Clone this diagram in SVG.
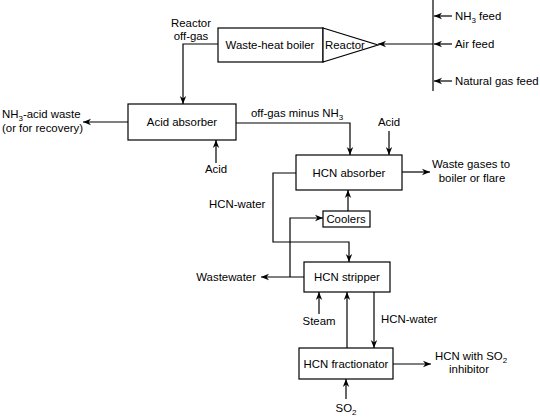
<svg xmlns="http://www.w3.org/2000/svg" width="540" height="418" viewBox="0 0 540 418">
<style>
text{font-family:"Liberation Sans",Arial,sans-serif;font-size:11.4px;fill:#000}
.box{fill:#fff;stroke:#000;stroke-width:1.2}
.ln{fill:none;stroke:#000;stroke-width:1.2}
.m{text-anchor:middle}
.e{text-anchor:end}
</style>
<defs>
<marker id="ah" viewBox="0 0 10 10" refX="10" refY="5" markerWidth="8" markerHeight="8" markerUnits="userSpaceOnUse" orient="auto">
<path d="M0,1 L10,5 L0,9 L3,5 Z" fill="#000"/>
</marker>
</defs>
<rect width="540" height="418" fill="#fff"/>
<g id="connectors">
<line class="ln" x1="433" y1="0" x2="433" y2="91"/>
<line class="ln" x1="452" y1="16" x2="434" y2="16" marker-end="url(#ah)"/>
<line class="ln" x1="452" y1="44" x2="434" y2="44" marker-end="url(#ah)"/>
<line class="ln" x1="452" y1="81" x2="434" y2="81" marker-end="url(#ah)"/>
<line class="ln" x1="433" y1="44" x2="378" y2="44" marker-end="url(#ah)"/>
<polyline class="ln" points="218,44 183,44 183,104" marker-end="url(#ah)"/>
<line class="ln" x1="128" y1="122" x2="83" y2="122" marker-end="url(#ah)"/>
<line class="ln" x1="216" y1="163" x2="216" y2="140" marker-end="url(#ah)"/>
<polyline class="ln" points="236,123 350,123 350,155" marker-end="url(#ah)"/>
<line class="ln" x1="389" y1="131" x2="389" y2="155" marker-end="url(#ah)"/>
<line class="ln" x1="402" y1="172" x2="430" y2="172" marker-end="url(#ah)"/>
<polyline class="ln" points="296,173 273,173 273,242 349,242 349,262" marker-end="url(#ah)"/>
<line class="ln" x1="348" y1="211" x2="348" y2="190" marker-end="url(#ah)"/>
<polyline class="ln" points="290,277 290,218 323,218" marker-end="url(#ah)"/>
<line class="ln" x1="304" y1="277" x2="261" y2="277" marker-end="url(#ah)"/>
<line class="ln" x1="319" y1="314" x2="319" y2="292" marker-end="url(#ah)"/>
<line class="ln" x1="347" y1="348" x2="347" y2="292" marker-end="url(#ah)"/>
<line class="ln" x1="374" y1="292" x2="374" y2="348" marker-end="url(#ah)"/>
<line class="ln" x1="393" y1="364" x2="431" y2="364" marker-end="url(#ah)"/>
<line class="ln" x1="346" y1="399" x2="346" y2="379" marker-end="url(#ah)"/>
</g>
<g id="feeds">
<text x="455" y="20">NH<tspan font-size="8" dy="3">3</tspan><tspan dy="-3"> feed</tspan></text>
<text x="455" y="48">Air feed</text>
<text x="455" y="85">Natural gas feed</text>
</g>
<g id="boiler">
<rect class="box" x="218" y="28" width="105" height="34"/>
<text class="m" x="270" y="49">Waste-heat boiler</text>
</g>
<g id="reactor">
<polygon class="box" points="323,28 378,45 323,62"/>
<text x="325" y="49">Reactor</text>
</g>
<g id="reactor-offgas-label">
<text class="m" x="191" y="27">Reactor</text>
<text class="m" x="191" y="40">off-gas</text>
</g>
<g id="acid-absorber">
<rect class="box" x="128" y="104" width="108" height="36"/>
<text class="m" x="182" y="126">Acid absorber</text>
</g>
<g id="labels-left">
<text x="2" y="118">NH<tspan font-size="8" dy="3">3</tspan><tspan dy="-3">-acid waste</tspan></text>
<text x="2" y="132">(or for recovery)</text>
<text class="m" x="216" y="173">Acid</text>
<text x="251" y="117">off-gas minus NH<tspan font-size="8" dy="3">3</tspan></text>
<text class="m" x="389" y="126">Acid</text>
<text x="432" y="168">Waste gases to</text>
<text class="m" x="472" y="182">boiler or flare</text>
<text x="209" y="208">HCN-water</text>
<text class="e" x="256" y="281">Wastewater</text>
<text class="m" x="319" y="325">Steam</text>
<text x="381" y="323">HCN-water</text>
<text x="435" y="360">HCN with SO<tspan font-size="8" dy="3">2</tspan></text>
<text class="m" x="469" y="373">inhibitor</text>
<text class="m" x="346" y="412">SO<tspan font-size="8" dy="3">2</tspan></text>
</g>
<g id="hcn-absorber">
<rect class="box" x="296" y="155" width="106" height="35"/>
<text class="m" x="349" y="177">HCN absorber</text>
</g>
<g id="coolers">
<rect class="box" x="323" y="211" width="47" height="16"/>
<text class="m" x="346" y="223">Coolers</text>
</g>
<g id="hcn-stripper">
<rect class="box" x="304" y="262" width="86" height="30"/>
<text class="m" x="347" y="281">HCN stripper</text>
</g>
<g id="hcn-fractionator">
<rect class="box" x="299" y="348" width="94" height="31"/>
<text class="m" x="346" y="368">HCN fractionator</text>
</g>
</svg>
